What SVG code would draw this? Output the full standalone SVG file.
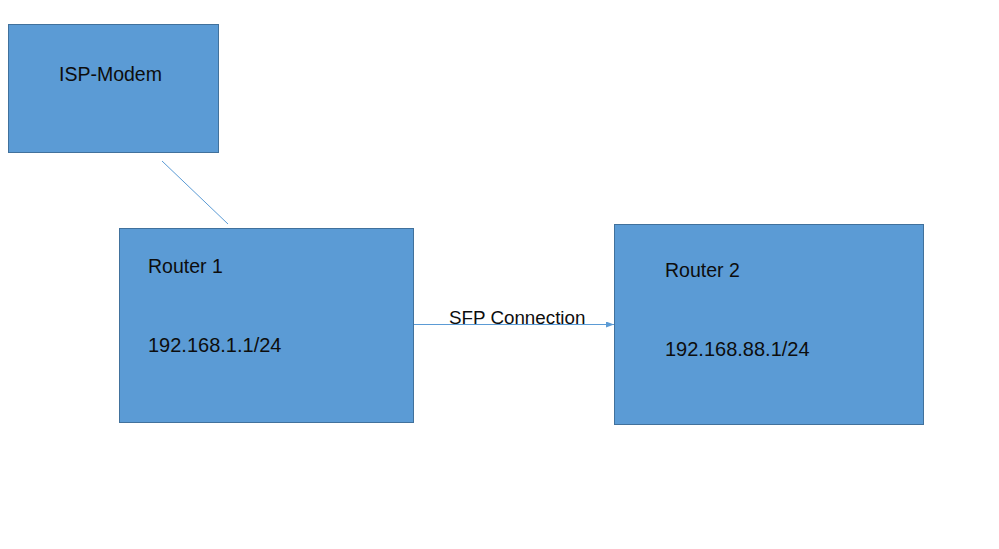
<svg xmlns="http://www.w3.org/2000/svg" width="999" height="549" viewBox="0 0 999 549">
<style>
.box{fill:#5B9BD5;stroke:#41719C;stroke-width:1}
.t{font-family:"Liberation Sans",Arial,sans-serif;font-size:19.5px;fill:#0d0d0d}
.ip{font-size:20px}
.lbl{font-size:18.8px}
.c{stroke:#5B9BD5;stroke-width:1;fill:none}
</style>
<defs>
<marker id="ah" markerWidth="8" markerHeight="6" refX="8" refY="3" orient="auto" markerUnits="userSpaceOnUse">
<path d="M0,0 L8,3 L0,6 Z" fill="#5B9BD5"/>
</marker>
</defs>
<rect width="999" height="549" fill="#ffffff"/>
<g id="connectors">
<line class="c" x1="162" y1="161" x2="228" y2="224"/>
<line class="c" x1="413" y1="324.5" x2="614" y2="324.5" marker-end="url(#ah)"/>
</g>
<g id="isp-modem">
<rect class="box" x="8.5" y="24.5" width="210" height="128"/>
<text class="t" x="59" y="81">ISP-Modem</text>
</g>
<g id="router1">
<rect class="box" x="119.5" y="228.5" width="294" height="194"/>
<text class="t" x="148" y="273">Router 1</text>
<text class="t ip" x="148" y="352">192.168.1.1/24</text>
</g>
<g id="router2">
<rect class="box" x="614.5" y="224.5" width="309" height="200"/>
<text class="t" x="665" y="277">Router 2</text>
<text class="t ip" x="665" y="356">192.168.88.1/24</text>
</g>
<g id="label">
<text class="t lbl" x="449" y="324">SFP Connection</text>
</g>
</svg>
